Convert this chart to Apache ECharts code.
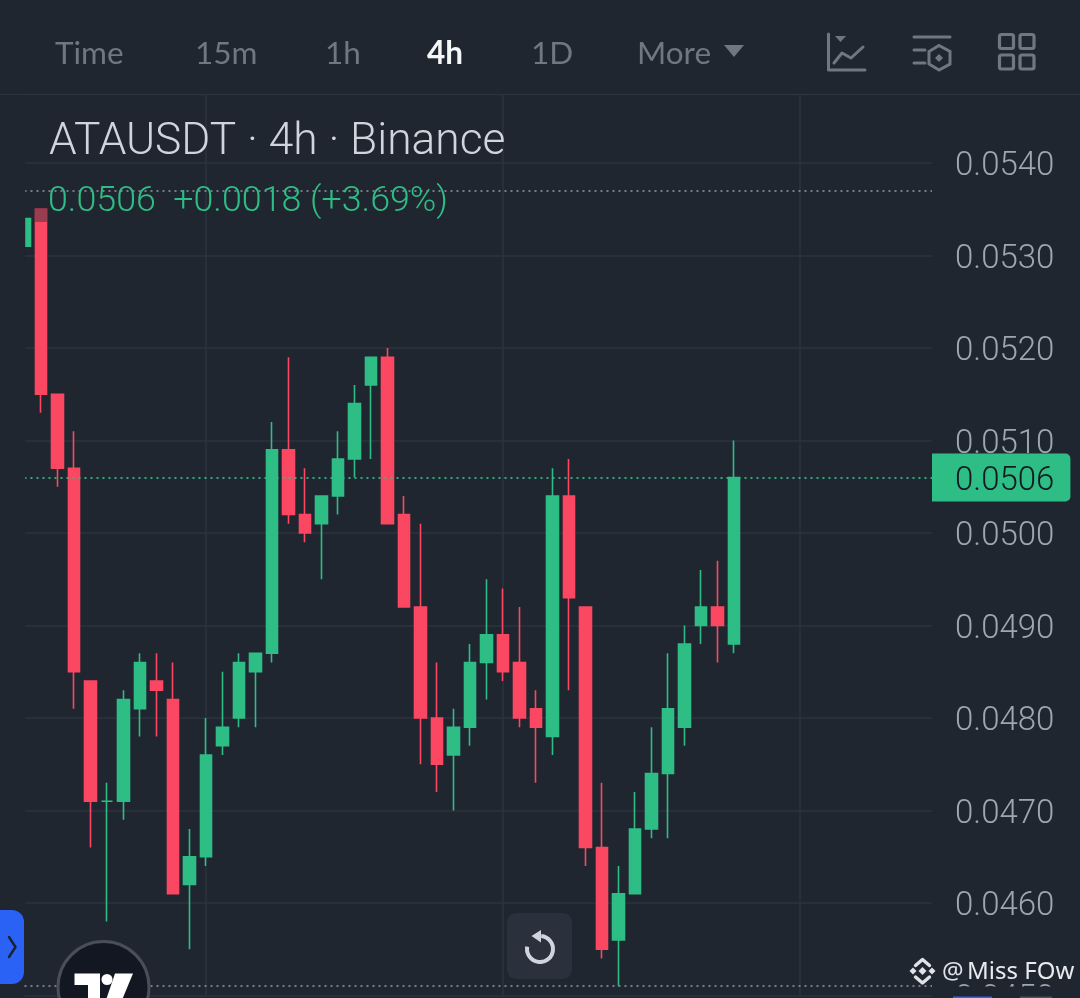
<!DOCTYPE html>
<html><head><meta charset="utf-8">
<style>html,body{margin:0;padding:0;background:#1f2630}#c{width:1080px;height:998px}</style>
<script src="https://cdn.jsdelivr.net/npm/echarts@6/dist/echarts.min.js"></script>
</head><body><div id="c"></div>
<script>
const opens  = [0.0531,0.0535,0.0515,0.0507,0.0484,0.0471,0.0471,0.0481,0.0484,0.0482,0.0462,0.0465,0.0477,0.0480,0.0485,0.0487,0.0509,0.0502,0.0501,0.0504,0.0508,0.0516,0.0519,0.0502,0.0492,0.0480,0.0476,0.0479,0.0486,0.0489,0.0486,0.0481,0.0478,0.0504,0.0492,0.0466,0.0456,0.0461,0.0468,0.0474,0.0479,0.0490,0.0492,0.0488];
const closes = [0.0534,0.0515,0.0507,0.0485,0.0471,0.0471,0.0482,0.0486,0.0483,0.0461,0.0465,0.0476,0.0479,0.0486,0.0487,0.0509,0.0502,0.0500,0.0504,0.0508,0.0514,0.0519,0.0501,0.0492,0.0480,0.0475,0.0479,0.0486,0.0489,0.0485,0.0480,0.0479,0.0504,0.0493,0.0466,0.0455,0.0461,0.0468,0.0474,0.0481,0.0488,0.0492,0.0490,0.0506];
const lows   = [0.0531,0.0513,0.0505,0.0481,0.0466,0.0458,0.0469,0.0478,0.0478,0.0461,0.0455,0.0464,0.0476,0.0479,0.0479,0.0486,0.0501,0.0499,0.0495,0.0502,0.0506,0.0508,0.0501,0.0492,0.0475,0.0472,0.0470,0.0477,0.0482,0.0484,0.0479,0.0473,0.0476,0.0483,0.0464,0.0454,0.0451,0.0461,0.0467,0.0467,0.0477,0.0488,0.0486,0.0487];
const highs  = [0.0534,0.0535,0.0515,0.0511,0.0484,0.0473,0.0483,0.0487,0.0487,0.0486,0.0468,0.0480,0.0485,0.0487,0.0487,0.0512,0.0519,0.0507,0.0504,0.0511,0.0516,0.0519,0.0520,0.0504,0.0501,0.0486,0.0481,0.0488,0.0495,0.0494,0.0492,0.0483,0.0507,0.0508,0.0492,0.0473,0.0464,0.0472,0.0479,0.0487,0.0490,0.0496,0.0497,0.0510];
const slotCount = 56;
const categories = Array.from({length: slotCount}, (_, i) => String(i));
const candles = opens.map((o, i) => [o, closes[i], lows[i], highs[i]]);
const tabLabels = ['Time','15m','1h','4h','1D','More'];
const tabX = [55,195,325,427,531,637];
const title = 'ATAUSDT · 4h · Binance';
const changeText = '0.0506  +0.0018 (+3.69%)';
const lastPrice = 0.0506, periodHigh = 0.0537, periodLow = 0.0451;

const BG='#1f2630', GRID='#2c333e', GREEN='#2ebd85', RED='#fb4761', ICON='#6f7882';
const g=[];
const add=o=>{o.z=o.z||100;o.silent=true;g.push(o);};
const text=(t,x,y,size,weight,fam,fill,extra)=>add({type:'text',style:Object.assign({text:t,x:x,y:y,fontSize:size,fontWeight:weight,fontFamily:fam,fill:fill,textVerticalAlign:'middle'},extra||{})});
const line=(pts,color,w,z)=>add({type:'polyline',z:z,shape:{points:pts},style:{stroke:color,lineWidth:w,fill:null,lineCap:'round',lineJoin:'round'}});
const poly=(pts,color,z)=>add({type:'polygon',z:z,shape:{points:pts},style:{fill:color}});
const rrect=(x,y,w,h,r,fill,stroke,lw,z)=>add({type:'rect',z:z,shape:{x:x,y:y,width:w,height:h,r:r},style:{fill:fill,stroke:stroke,lineWidth:lw||0}});

// header
rrect(0,0,1080,94,0,BG,null,0,50);
add({type:'line',z:51,shape:{x1:0,y1:94.5,x2:1080,y2:94.5},style:{stroke:GRID,lineWidth:1.5}});
tabLabels.forEach((t,i)=>text(t,tabX[i],54,31.5,i===3?700:400,'Lato',i===3?'#f5f6f8':'#6f7882'));
poly([[724,45],[744,45],[734,57]],ICON);
// icon 1
line([[828.5,34],[828.5,70],[865,70]],ICON,3);
line([[834,63],[842,53],[851,58],[863,47]],ICON,3);
poly([[835,36],[846,36],[840.5,42]],ICON);
// icon 2
line([[914,37],[950,37]],ICON,3);
line([[914,50],[925,50]],ICON,3);
line([[914,63],[925,63]],ICON,3);
add({type:'polygon',z:100,shape:{points:[[939,45.5],[950,51.5],[950,64],[939,70],[929,64],[929,51.5]]},style:{fill:null,stroke:ICON,lineWidth:3}});
poly([[939,54],[943,58],[939,62],[935,58]],ICON);
// icon 3
[[999.5,34.5],[1020,34.5],[999.5,55],[1020,55]].forEach(p=>rrect(p[0],p[1],14,14,2,null,ICON,3.2));
// left edge cover: the first candle is cut by the pane edge
rrect(0,95,25.2,815,0,BG,null,0,60);
// title + change
text(title,49,143,44.3,300,'Roboto','#d1d4dc');
text(changeText,48,202,35.8,300,'Roboto',GREEN,{});
// dithered corner on the first red candle
rrect(35,209,12,13,0,'#9a3d50',null,0,60);
// hide the lower part of the 0.0450 label
rrect(934,986.5,146,12,0,BG,null,0,90);
rrect(953,996.5,39,2,0,'#2b62f6',null,0,91);
rrect(1020,996.5,32,2,0,'#4a505c',null,0,91);
// blue pill
add({type:'rect',z:100,shape:{x:-12,y:910,width:36,height:74,r:12},style:{fill:'#2b62f6'}});
line([[9,937],[15.5,947],[9,957]],'#1a2230',2.4);
// logo
add({type:'circle',z:100,shape:{cx:103.5,cy:987,r:45.5},style:{fill:'#131722',stroke:'#4a4e5a',lineWidth:3}});
poly([[74.5,973.5],[100,973.5],[100,1000],[88,1000],[88,985],[74.5,985]],'#ffffff');
add({type:'circle',z:101,shape:{cx:107,cy:979.5,r:5.5},style:{fill:'#ffffff'}});
poly([[115,973.5],[133,973.5],[122,1000],[106,1000]],'#ffffff');
// reset button
rrect(507,913,65,66,9,'#2a303c',null,0,100);
add({type:'arc',z:101,shape:{cx:540,cy:949,r:13,startAngle:-Math.PI*0.47,endAngle:Math.PI*1.06,clockwise:true},style:{stroke:'#d1d4dc',lineWidth:4,fill:null,lineCap:'butt'}});
poly([[531.5,936],[541,930],[541,942.5]],'#d1d4dc',101);
// watermark
line([[915.5,965.5],[922.5,959.5],[929.5,965.5]],'#e0e2e8',3.4);
line([[915.5,977],[922.5,983],[929.5,977]],'#e0e2e8',3.4);
poly([[922.5,967],[926.5,971],[922.5,975],[918.5,971]],'#e0e2e8');
poly([[913,967.5],[916.5,971],[913,974.5],[909.5,971]],'#e0e2e8');
poly([[932,967.5],[935.5,971],[932,974.5],[928.5,971]],'#e0e2e8');
text('@',942,972,24,400,'Noto Sans','#e0e2e8');
text('Miss FOw',967,972,24,400,'Noto Sans','#e8eaee');

const dots=[2,4];
const option={
  animation:false,
  backgroundColor:BG,
  grid:{left:24.5,top:95,width:907.5,height:900.5,containLabel:false,outerBoundsMode:'none'},
  xAxis:{type:'category',data:categories,boundaryGap:false,
    axisLine:{show:false},axisTick:{show:false},axisLabel:{show:false},
    splitLine:{show:true,interval:(i)=>(i-11)%18===0,lineStyle:{color:GRID,width:1.5}}},
  yAxis:{type:'value',position:'right',min:0.045,max:0.054735,interval:0.001,scale:true,
    axisLine:{show:false},axisTick:{show:false},
    axisLabel:{show:true,margin:23,showMaxLabel:false,
      rich:{a:{color:'#a0a6b0',fontFamily:'Roboto',fontWeight:300,fontSize:33,lineHeight:36,padding:[8,0,0,0]}},
      formatter:v=>v>0.0545?'':'{a|'+v.toFixed(4)+'}'},
    splitLine:{show:true,showMaxLine:false,lineStyle:{color:GRID,width:1.5}}},
  series:[{type:'candlestick',data:candles,barWidth:12.4,
    itemStyle:{color:GREEN,color0:RED,borderColor:GREEN,borderColor0:RED,borderWidth:1.6},
    markLine:{symbol:'none',silent:true,animation:false,precision:4,
      data:[
        {yAxis:periodHigh,lineStyle:{color:'#767d88',width:2,type:dots},label:{show:false}},
        {yAxis:periodLow,lineStyle:{color:'#767d88',width:2,type:dots},label:{show:false}},
        {yAxis:lastPrice,lineStyle:{color:'rgba(46,189,133,0.9)',width:2,type:dots},
         label:{show:true,position:'end',distance:0,formatter:()=>'{a|'+lastPrice.toFixed(4)+'}',
           backgroundColor:GREEN,padding:[8,16,8,23],borderRadius:[0,5,5,0],align:'left',
           rich:{a:{color:'#141a22',fontFamily:'Roboto',fontWeight:300,fontSize:33,lineHeight:32,padding:[8,0,0,0]}}}}
      ]}
  }],
  graphic:{elements:g}
};
echarts.init(document.getElementById('c'),null,{renderer:'canvas'}).setOption(option);
</script></body></html>
